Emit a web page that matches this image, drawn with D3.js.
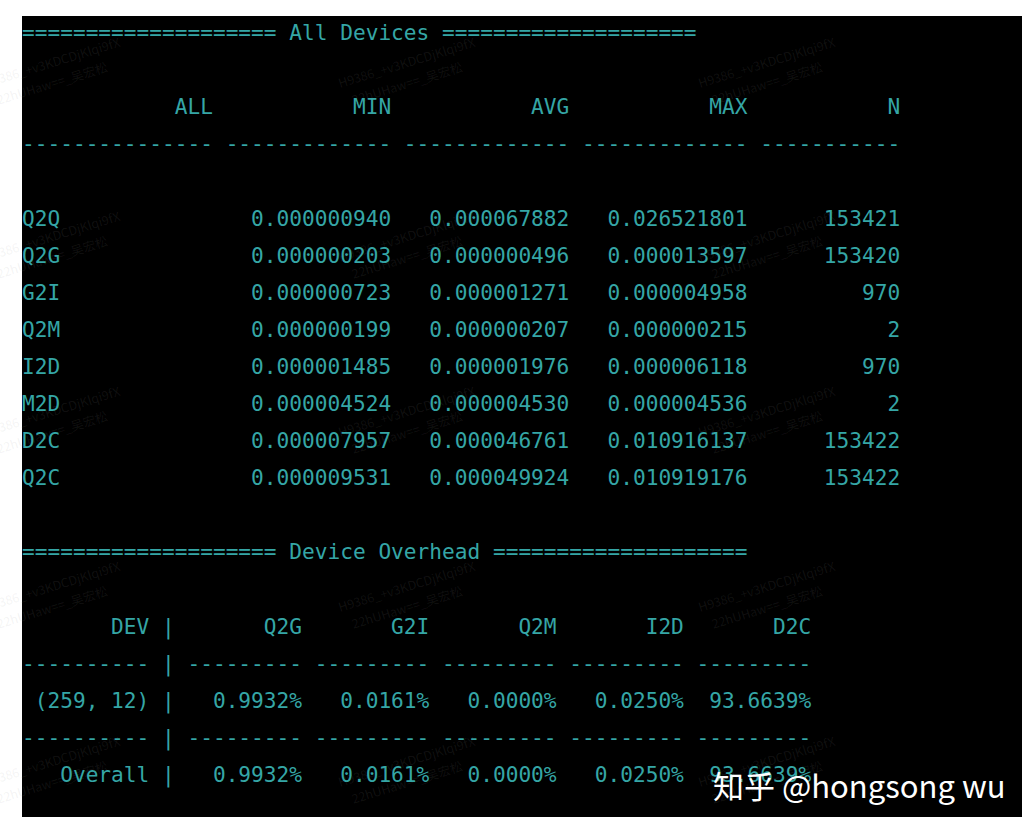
<!DOCTYPE html>
<html>
<head>
<meta charset="utf-8">
<script src="https://cdn.jsdelivr.net/npm/d3@7"></script>
<style>
  html, body { margin: 0; padding: 0; background: #ffffff; }
  svg { display: block; }
</style>
</head>
<body>
<svg id="chart" width="1033" height="835"></svg>
<script>
// ---- data ----
const statNames = ["Q2Q", "Q2G", "G2I", "Q2M", "I2D", "M2D", "D2C", "Q2C"];
const statMin = ["0.000000940", "0.000000203", "0.000000723", "0.000000199", "0.000001485", "0.000004524", "0.000007957", "0.000009531"];
const statAvg = ["0.000067882", "0.000000496", "0.000001271", "0.000000207", "0.000001976", "0.000004530", "0.000046761", "0.000049924"];
const statMax = ["0.026521801", "0.000013597", "0.000004958", "0.000000215", "0.000006118", "0.000004536", "0.010916137", "0.010919176"];
const statN = [153421, 153420, 970, 2, 970, 2, 153422, 153422];
const statHeaders = ["ALL", "MIN", "AVG", "MAX", "N"];

const ovHeaders = ["DEV", "Q2G", "G2I", "Q2M", "I2D", "D2C"];
const ovDevice = "(259, 12)";
const ovDeviceVals = ["0.9932%", "0.0161%", "0.0000%", "0.0250%", "93.6639%"];
const ovOverallVals = ["0.9932%", "0.0161%", "0.0000%", "0.0250%", "93.6639%"];

// ---- layout ----
const svg = d3.select("#chart");
const teal = "#35a6a6";
const fontSize = 21.15;

// black terminal panel
svg.append("rect").attr("x", 22).attr("y", 16).attr("width", 1000).attr("height", 801).attr("fill", "#000");

// watermarks
const wmX = [-15, 340, 700];
const wmY = [88, 262, 437, 612, 787];
const wm = svg.append("g").attr("fill", "#9a9a9a").attr("fill-opacity", 0.11)
  .attr("font-family", "'Noto Sans CJK SC', 'DejaVu Sans', sans-serif").attr("font-size", 12.5);
wmX.forEach(x => wmY.forEach(y => {
  const g = wm.append("g").attr("transform", `translate(${x},${y}) rotate(-17)`);
  g.append("text").text("H9386_+v3KDCDjKlqi9fX");
  g.append("text").attr("x", 8).attr("y", 20).text("22hUHaw==_吴宏松");
}));

// terminal lines
const pad = (s, w) => String(s).padStart(w, " ");
const padR = (s, w) => String(s).padEnd(w, " ");
const eq = "=".repeat(20);
const lines = [];
lines.push(`${eq} All Devices ${eq}`);
lines.push("");
lines.push([pad(statHeaders[0], 15), pad(statHeaders[1], 13), pad(statHeaders[2], 13), pad(statHeaders[3], 13), pad(statHeaders[4], 11)].join(" "));
lines.push(["-".repeat(15), "-".repeat(13), "-".repeat(13), "-".repeat(13), "-".repeat(11)].join(" "));
lines.push("");
statNames.forEach((n, i) => {
  lines.push([padR(n, 15), pad(statMin[i], 13), pad(statAvg[i], 13), pad(statMax[i], 13), pad(statN[i], 11)].join(" "));
});
lines.push("");
lines.push(`${eq} Device Overhead ${eq}`);
lines.push("");
lines.push(pad(ovHeaders[0], 10) + " | " + ovHeaders.slice(1).map(h => pad(h, 9)).join(" "));
const dashRow = "-".repeat(10) + " | " + ovHeaders.slice(1).map(() => "-".repeat(9)).join(" ");
lines.push(dashRow);
lines.push(pad(ovDevice, 10) + " | " + ovDeviceVals.map(v => pad(v, 9)).join(" "));
lines.push(dashRow);
lines.push(pad("Overall", 10) + " | " + ovOverallVals.map(v => pad(v, 9)).join(" "));

const y = d3.scaleLinear().domain([0, lines.length - 1]).range([40, 40 + 37.1 * (lines.length - 1)]);

svg.append("g")
  .attr("font-family", "'DejaVu Sans Mono', 'Liberation Mono', monospace")
  .attr("font-size", fontSize)
  .attr("fill", teal)
  .selectAll("text")
  .data(lines)
  .join("text")
  .attr("x", 22)
  .attr("y", (d, i) => y(i))
  .attr("xml:space", "preserve")
  .style("white-space", "pre")
  .text(d => d);

// site credit
svg.append("text")
  .attr("x", 713).attr("y", 798)
  .attr("font-family", "'Noto Sans CJK SC', 'Noto Sans', sans-serif")
  .attr("font-size", 31)
  .attr("fill", "#ffffff")
  .text("知乎 @hongsong wu");
</script>
</body>
</html>
